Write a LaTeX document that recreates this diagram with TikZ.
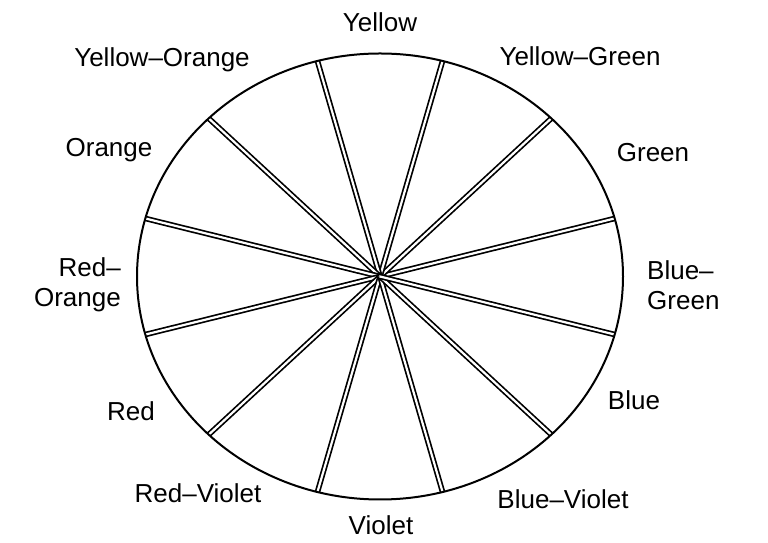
\documentclass[tikz,border=0pt]{standalone}
\usepackage{fontspec}
\setmainfont{Liberation Sans}

\begin{document}
\begin{tikzpicture}[x=1pt, y=1pt,
	lbl/.style={font=\fontsize{26}{30}\selectfont, inner sep=0pt},
	spoke/.style={line width=1.7pt, double=white, double distance=2.2pt}]

	\useasboundingbox (0,0) rectangle (768,543);

	\coordinate (c) at (380,266.5);

	% spokes of the wheel
	\begin{scope}
		\clip (c) ellipse [x radius=243, y radius=223];
		\foreach \a in {15,45,...,345}
			\draw[spoke] (c) -- ++(\a:260 and 240) coordinate (r\a);
	\end{scope}

	\draw[line width=2pt] (c) ellipse [x radius=243, y radius=223];

	% colour names
	\node[lbl, anchor=base] (yellow) at (380,511) {Yellow};
	\node[lbl, anchor=base] (yelloworange) at (162,476) {Yellow--Orange};
	\node[lbl, anchor=base] (yellowgreen) at (580,477) {Yellow--Green};
	\node[lbl, anchor=base] (orange) at (109,386) {Orange};
	\node[lbl, anchor=base] (green) at (653,381) {Green};
	\node[lbl, anchor=east, align=right] (redorange) at (121,258) {Red--\\Orange};
	\node[lbl, anchor=west, align=left] (bluegreen) at (647,258) {Blue--\\Green};
	\node[lbl, anchor=base] (red) at (131,122) {Red};
	\node[lbl, anchor=base] (blue) at (634,133) {Blue};
	\node[lbl, anchor=base] (redviolet) at (198,40) {Red--Violet};
	\node[lbl, anchor=base] (blueviolet) at (563,34) {Blue--Violet};
	\node[lbl, anchor=base] (violet) at (381,8) {Violet};

\end{tikzpicture}
\end{document}
